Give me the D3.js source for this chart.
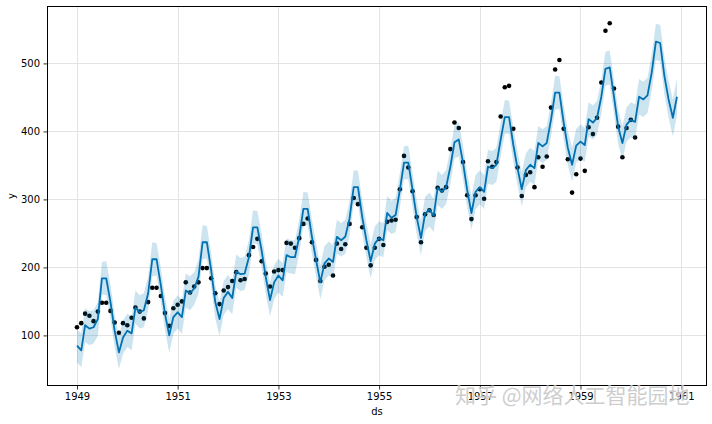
<!DOCTYPE html>
<html>
<head>
<meta charset="utf-8">
<script src="https://cdn.jsdelivr.net/npm/d3@7"></script>
<style>
  body { margin: 0; background: #fff; overflow: hidden; }
  text { font-family: "DejaVu Sans", sans-serif; }
</style>
</head>
<body>
<div id="chart"></div>
<script>
// observed monthly passengers (black dots), 1949-01 .. 1960-02
var actual = [
  112, 118, 132, 129, 121, 135, 148, 148, 136, 119, 104, 118,
  115, 126, 141, 135, 125, 149, 170, 170, 158, 133, 114, 140,
  145, 150, 178, 163, 172, 178, 199, 199, 184, 162, 146, 166,
  171, 180, 193, 181, 183, 218, 230, 242, 209, 191, 172, 194,
  196, 196, 236, 235, 229, 243, 264, 272, 237, 211, 180, 201,
  204, 188, 235, 227, 234, 264, 302, 293, 259, 229, 203, 229,
  242, 233, 267, 269, 270, 315, 364, 347, 312, 274, 237, 278,
  284, 277, 317, 313, 318, 374, 413, 405, 355, 306, 271, 306,
  315, 301, 356, 348, 355, 422, 465, 467, 404, 347, 305, 336,
  340, 318, 362, 348, 363, 435, 491, 505, 404, 359, 310, 337,
  360, 342, 406, 396, 420, 472, 548, 559, 463, 407, 362, 405,
  417, 391
];

// fitted forecast, 1949-01 .. 1960-12
var yhat = [
  85, 78, 115, 110, 112, 124, 184, 184, 149, 107, 75, 97,
  107, 103, 141, 134, 137, 162, 212, 212, 174, 132, 100, 127,
  134, 127, 166, 162, 169, 186, 237, 237, 196, 149, 124, 155,
  164, 155, 194, 190, 191, 215, 259, 259, 225, 186, 152, 178,
  188, 181, 218, 215, 215, 245, 286, 286, 245, 211, 178, 206,
  213, 208, 245, 240, 245, 272, 318, 318, 274, 240, 209, 235,
  243, 240, 280, 273, 277, 314, 354, 354, 314, 274, 243, 279,
  285, 276, 317, 311, 318, 348, 384, 388, 354, 314, 280, 311,
  318, 311, 348, 346, 351, 388, 421, 421, 380, 346, 315, 343,
  351, 346, 383, 378, 383, 417, 457, 457, 413, 376, 351, 379,
  385, 380, 418, 413, 420, 451, 492, 494, 451, 407, 383, 410,
  417, 414, 451, 447, 453, 487, 532, 530, 481, 447, 420, 451
];

var yhatLower = [
  60, 53, 90, 86, 88, 99, 160, 159, 124, 83, 51, 73,
  83, 78, 117, 110, 112, 137, 187, 188, 149, 108, 75, 102,
  110, 102, 141, 137, 145, 161, 212, 213, 171, 125, 99, 130,
  139, 131, 170, 165, 167, 190, 235, 234, 200, 161, 128, 153,
  163, 157, 193, 191, 190, 221, 261, 262, 220, 187, 153, 181,
  188, 184, 220, 216, 220, 247, 293, 294, 249, 215, 184, 211,
  218, 215, 255, 249, 252, 289, 330, 329, 289, 249, 218, 254,
  260, 252, 292, 286, 293, 323, 360, 363, 329, 289, 255, 286,
  293, 286, 323, 321, 326, 363, 396, 397, 355, 321, 290, 318,
  326, 321, 358, 353, 358, 392, 432, 433, 388, 351, 326, 354,
  360, 355, 393, 388, 395, 426, 467, 469, 426, 382, 358, 385,
  391, 388, 425, 421, 427, 460, 505, 503, 454, 420, 393, 424
];

var yhatUpper = [
  109, 103, 140, 136, 137, 149, 208, 209, 174, 131, 99, 122,
  132, 128, 166, 159, 162, 186, 237, 236, 199, 157, 125, 151,
  159, 152, 191, 187, 193, 211, 262, 261, 221, 174, 149, 180,
  189, 180, 219, 214, 216, 240, 284, 283, 250, 211, 177, 203,
  213, 206, 243, 240, 240, 270, 311, 310, 270, 236, 203, 231,
  238, 233, 270, 265, 270, 297, 343, 342, 299, 265, 234, 260,
  268, 265, 305, 298, 302, 339, 378, 379, 339, 299, 268, 304,
  310, 301, 342, 336, 343, 373, 409, 413, 379, 339, 305, 336,
  343, 336, 373, 371, 376, 413, 446, 445, 405, 371, 340, 368,
  376, 371, 408, 403, 408, 442, 482, 481, 438, 401, 376, 404,
  410, 405, 443, 438, 445, 476, 517, 519, 476, 432, 408, 435,
  443, 440, 477, 473, 479, 514, 558, 557, 508, 474, 447, 478
];

var yTicks = [100, 200, 300, 400, 500];
var xTickYears = [1949, 1951, 1953, 1955, 1957, 1959, 1961];
var watermark = "知乎 @网络人工智能园地";

// monthly dates for the forecast frame
var months = d3.timeMonth.range(new Date(1949, 0, 1), new Date(1961, 0, 1));

var fcst = months.map(function (d, i) {
    return { ds: d, yhat: yhat[i], lo: yhatLower[i], hi: yhatUpper[i] };
});
var observed = actual.map(function (v, i) {
    return { ds: months[i], y: v };
});

// ***************************
// **     LAYOUT            **
// ***************************
var W = 712, H = 424;
var margin = { top: 6, left: 47, right: 5, bottom: 38 },
    width = W - margin.left - margin.right,
    height = H - margin.top - margin.bottom;

var svg = d3.select("#chart")
    .append("svg")
    .attr("width", W)
    .attr("height", H)
    .style("display", "block");

var g = svg.append("g")
    .attr("transform", "translate(" + margin.left + "," + margin.top + ")");

// matplotlib-style 5% margins around the data
var t0 = months[0].getTime(), t1 = months[months.length - 1].getTime();
var padT = (t1 - t0) * 0.05;
var x = d3.scaleTime()
    .domain([new Date(t0 - padT), new Date(t1 + padT)])
    .range([0, width]);

var yMin = d3.min(yhatLower), yMax = Math.max(d3.max(yhatUpper), d3.max(actual));
var padY = (yMax - yMin) * 0.05;
var y = d3.scaleLinear()
    .domain([yMin - padY, yMax + padY])
    .range([height, 0]);

var xTicks = xTickYears.map(function (yr) { return new Date(yr, 0, 1); });

// grid
g.append("g").selectAll("line")
    .data(xTicks)
    .enter().append("line")
    .attr("x1", function (d) { return Math.round(x(d)) + 0.5; })
    .attr("x2", function (d) { return Math.round(x(d)) + 0.5; })
    .attr("y1", 0).attr("y2", height)
    .attr("stroke", "#e3e3e3").attr("stroke-width", 1);

g.append("g").selectAll("line")
    .data(yTicks)
    .enter().append("line")
    .attr("y1", function (d) { return Math.round(y(d)) + 0.5; })
    .attr("y2", function (d) { return Math.round(y(d)) + 0.5; })
    .attr("x1", 0).attr("x2", width)
    .attr("stroke", "#e3e3e3").attr("stroke-width", 1);

// observed points
g.append("g").selectAll("circle")
    .data(observed)
    .enter().append("circle")
    .attr("cx", function (d) { return x(d.ds); })
    .attr("cy", function (d) { return y(d.y); })
    .attr("r", 2.3)
    .attr("fill", "#000");

// forecast line
var line = d3.line()
    .x(function (d) { return x(d.ds); })
    .y(function (d) { return y(d.yhat); });

g.append("path")
    .datum(fcst)
    .attr("d", line)
    .attr("fill", "none")
    .attr("stroke", "#0072B2")
    .attr("stroke-width", 1.8)
    .attr("stroke-linejoin", "round");

// uncertainty band
var band = d3.area()
    .x(function (d) { return x(d.ds); })
    .y0(function (d) { return y(d.lo); })
    .y1(function (d) { return y(d.hi); });

g.append("path")
    .datum(fcst)
    .attr("d", band)
    .attr("fill", "#0072B2")
    .attr("fill-opacity", 0.2)
    .attr("stroke", "none");

// axes
var xAxis = d3.axisBottom(x)
    .tickValues(xTicks)
    .tickFormat(d3.timeFormat("%Y"))
    .tickSize(3.5)
    .tickPadding(3.5);
var yAxis = d3.axisLeft(y)
    .tickValues(yTicks)
    .tickSize(3.5)
    .tickPadding(3.5);

var gx = g.append("g")
    .attr("transform", "translate(0," + height + ")")
    .call(xAxis);
var gy = g.append("g").call(yAxis);

[gx, gy].forEach(function (a) {
    a.select(".domain").remove();
    a.selectAll("line").attr("stroke", "#000").attr("stroke-width", 0.8);
    a.selectAll("text")
        .attr("fill", "#000")
        .style("font-size", "10px")
        .style("font-family", "'DejaVu Sans', sans-serif");
});

// frame
g.append("rect")
    .attr("x", 0.5).attr("y", 0.5)
    .attr("width", width - 1).attr("height", height - 1)
    .attr("fill", "none")
    .attr("stroke", "#000")
    .attr("stroke-width", 1);

// axis labels
svg.append("text")
    .attr("x", margin.left + width / 2)
    .attr("y", 415)
    .attr("text-anchor", "middle")
    .style("font-size", "10px")
    .text("ds");

svg.append("text")
    .attr("transform", "translate(15," + (margin.top + height / 2) + ") rotate(-90)")
    .attr("text-anchor", "middle")
    .style("font-size", "10px")
    .text("y");

// watermark
svg.append("text")
    .attr("x", 455)
    .attr("y", 403)
    .style("font-family", "'Noto Sans CJK SC', sans-serif")
    .style("font-size", "21px")
    .attr("fill", "#c4c4c4")
    .attr("fill-opacity", 0.85)
    .attr("stroke", "#ffffff")
    .attr("stroke-width", 1)
    .attr("stroke-opacity", 0.6)
    .attr("paint-order", "stroke")
    .text(watermark);
</script>
</body>
</html>
